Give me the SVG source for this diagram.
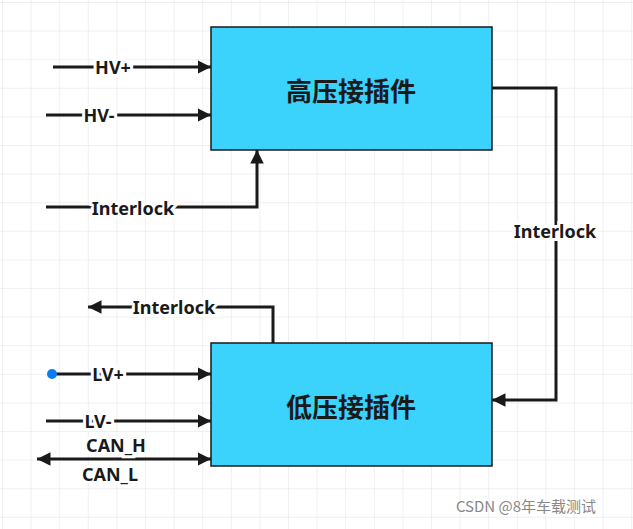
<svg xmlns="http://www.w3.org/2000/svg" width="633" height="529" viewBox="0 0 633 529">
<defs>
<pattern id="grid" x="2" y="2" width="28.6" height="28.6" patternUnits="userSpaceOnUse"><path d="M0 0H28.6M0 0V28.6" stroke="#e2e2e2" stroke-width="1" fill="none"/></pattern>
<marker id="ar" viewBox="0 0 10 10" refX="10" refY="5" markerWidth="4.5" markerHeight="4.5" orient="auto-start-reverse"><path d="M0 0L10 5L0 10z" fill="#1a1a1a"/></marker>
</defs>
<style>
.ln{stroke:#1a1a1a;stroke-width:3;fill:none}
.box{fill:#3bd2fb;stroke:#1a1a1a;stroke-width:1.5}
.t{font-family:"Noto Sans","Liberation Sans",sans-serif;font-weight:bold;font-size:18px;fill:#1a1a1a;text-anchor:middle;dominant-baseline:central;paint-order:stroke;stroke:#fff;stroke-width:6px}
.bt{font-family:"Noto Sans CJK SC",sans-serif;font-weight:bold;font-size:26px;fill:#1a1a1a;text-anchor:middle;dominant-baseline:central}
</style>
<rect width="633" height="529" fill="#fff"/>
<rect width="633" height="529" fill="url(#grid)"/>
<g id="connectors">
<path class="ln" d="M53 67H211" marker-end="url(#ar)"/>
<path class="ln" d="M46 115H211" marker-end="url(#ar)"/>
<path class="ln" d="M46 207H257V150" marker-end="url(#ar)"/>
<path class="ln" d="M492 88H556V400H492" marker-end="url(#ar)"/>
<path class="ln" d="M273 343V307H88" marker-end="url(#ar)"/>
<path class="ln" d="M52 374H211" marker-end="url(#ar)"/>
<path class="ln" d="M46 421H211" marker-end="url(#ar)"/>
<path class="ln" d="M37 459H211" marker-start="url(#ar)" marker-end="url(#ar)"/>
<circle cx="52" cy="374" r="5" fill="#0a7ef5"/>
<text class="t" x="113" y="67">HV+</text>
<text class="t" x="99" y="115">HV-</text>
<text class="t" x="133" y="208">Interlock</text>
<text class="t" x="555" y="231">Interlock</text>
<text class="t" x="174" y="307">Interlock</text>
<text class="t" x="108" y="374">LV+</text>
<text class="t" x="98" y="421">LV-</text>
<text class="t" x="116" y="445">CAN_H</text>
<text class="t" x="110" y="474">CAN_L</text>
</g>
<g id="hv"><rect class="box" x="211" y="27" width="281" height="123"/><text class="bt" x="351" y="89">高压接插件</text></g>
<g id="lv"><rect class="box" x="211" y="343" width="281" height="123"/><text class="bt" x="351" y="405">低压接插件</text></g>
<text x="526" y="512" font-family="Noto Sans CJK SC,sans-serif" font-size="15" fill="#888" text-anchor="middle">CSDN @8年车载测试</text>
</svg>
